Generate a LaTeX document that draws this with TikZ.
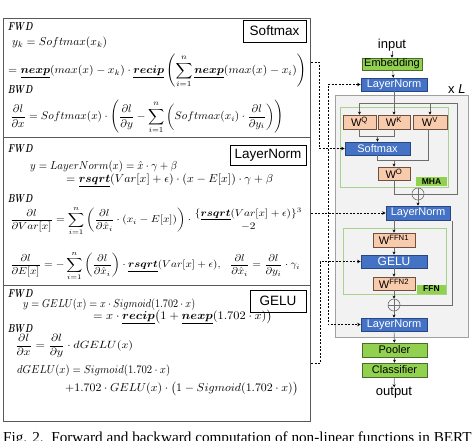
\documentclass[tikz,border=0pt]{standalone}
\usepackage{amsmath,bm,graphicx}
\usepackage{fontspec}
\newfontfamily\arial{Liberation Sans}
\newfontfamily\tnr{Liberation Serif}
\usetikzlibrary{arrows.meta}
\definecolor{boxblue}{RGB}{68,114,196}
\definecolor{boxblueb}{RGB}{40,70,130}
\definecolor{boxgreen}{RGB}{146,208,80}
\definecolor{boxgreenb}{RGB}{70,110,40}
\definecolor{salmon}{RGB}{248,203,173}
\definecolor{salmonb}{RGB}{110,80,60}
\definecolor{frgreen}{RGB}{169,209,142}
\definecolor{grayfill}{RGB}{242,242,242}
\definecolor{grayline}{RGB}{160,160,160}
\definecolor{conn}{RGB}{110,110,110}
\newcommand{\ul}[1]{\underline{\bm{#1}}}
\newcommand{\fitline}[3]{\resizebox{#1pt}{#2\height}{$\displaystyle #3$}}
\begin{document}
\begin{tikzpicture}[x=1pt,y=-1pt,
  eq/.style={anchor=west,inner sep=0pt},
  tagbox/.style={draw=black,line width=0.8pt,inner sep=0pt,font=\arial\fontsize{13.5}{15}\selectfont},
  panel/.style={draw=gray!70!black,line width=0.9pt},
  blk/.style={draw,line width=0.7pt,inner sep=0pt,font=\arial\fontsize{11}{12}\selectfont},
  bluebox/.style={blk,fill=boxblue,draw=boxblueb,text=white},
  greenbox/.style={blk,fill=boxgreen,draw=boxgreenb,text=black},
  wbox/.style={blk,fill=salmon,draw=salmonb,text=black},
  lbl/.style={fill=boxgreen,inner sep=0pt,font=\arial\bfseries\fontsize{8.5}{9}\selectfont},
  plain/.style={inner sep=0pt,font=\arial\fontsize{13}{14}\selectfont},
  ln/.style={draw=conn,line width=0.6pt},
  ar/.style={ln,-{Stealth[length=3pt,width=3pt,color=black]}},
  dsh/.style={draw=black,line width=0.6pt,dash pattern=on 2pt off 1.5pt},
  plus/.style={circle,draw=conn,line width=0.6pt,minimum size=12pt,inner sep=0pt,
    path picture={\draw[conn,line width=0.6pt] (path picture bounding box.north) -- (path picture bounding box.south) (path picture bounding box.west) -- (path picture bounding box.east);}}
]
\useasboundingbox (0,0) rectangle (474,440);
\fill[white] (0,0) rectangle (474,440);

% ---------- left panel frames ----------
\draw[panel] (3,18) rectangle (310,137);
\draw[panel] (3,137) rectangle (310,285);
\draw[panel] (3,285) rectangle (310,421);

\node[tagbox,minimum width=63pt,minimum height=22pt] (tsm) at (274.5,31) {Softmax};
\node[tagbox,minimum width=76pt,minimum height=20pt] (tln) at (268,155) {LayerNorm};
\node[tagbox,minimum width=56pt,minimum height=22pt] (tge) at (278,301) {GELU};

% Softmax section
\node[eq] (f1) at (8,27) {\fitline{25}{1.15}{\bm{FWD}}};
\node[eq] (s1) at (12,43) {\fitline{95}{1.15}{y_k = Softmax(x_k)}};
\node[eq] (s2) at (8,71) {\fitline{298}{1.1}{= \ul{nexp}(max(x) - x_k)\cdot \ul{recip}\left(\sum_{i=1}^{n} \ul{nexp}(max(x) - x_i)\right)}};
\node[eq] (b1) at (8,90) {\fitline{25}{1.15}{\bm{BWD}}};
\node[eq] (s3) at (10,117) {\fitline{273}{1.1}{\frac{\partial l}{\partial x} = Softmax(x)\cdot\left(\frac{\partial l}{\partial y} - \sum_{i=1}^{n}\left(Softmax(x_i)\cdot\frac{\partial l}{\partial y_i}\right)\right)}};

% LayerNorm section
\node[eq] (f2) at (8,149) {\fitline{25}{1.15}{\bm{FWD}}};
\node[eq] (l1) at (30,167) {\fitline{147}{1.15}{y = LayerNorm(x) = \hat{x}\cdot\gamma + \beta}};
\node[eq] (l2) at (66,180) {\fitline{207}{1.15}{= \ul{rsqrt}(Var[x]+\epsilon)\cdot(x - E[x])\cdot\gamma + \beta}};
\node[eq] (b2) at (8,199) {\fitline{25}{1.15}{\bm{BWD}}};
\node[eq] (l3) at (10,221) {\fitline{293}{1.0}{\frac{\partial l}{\partial Var[x]} = \sum_{i=1}^{n}\left(\frac{\partial l}{\partial \hat{x}_i}\cdot(x_i - E[x])\right)\cdot \genfrac{}{}{0pt}{}{\{\ul{rsqrt}(Var[x]+\epsilon)\}^3}{-2}}};
\node[eq] (l4) at (10,266) {\fitline{290}{1.0}{\frac{\partial l}{\partial E[x]} = -\sum_{i=1}^{n}\left(\frac{\partial l}{\partial\hat{x}_i}\right)\cdot\ul{rsqrt}(Var[x]+\epsilon),\ \ \frac{\partial l}{\partial\hat{x}_i} = \frac{\partial l}{\partial y_i}\cdot\gamma_i}};

% GELU section
\node[eq] (f3) at (8,294) {\fitline{25}{1.15}{\bm{FWD}}};
\node[eq] (g1) at (23,305) {\fitline{172}{1.15}{y = GELU(x) = x\cdot Sigmoid(1.702\cdot x)}};
\node[eq] (g2) at (93,317) {\fitline{179}{1.15}{= x\cdot\ul{recip}\big(1+\ul{nexp}(1.702\cdot x)\big)}};
\node[eq] (b3) at (8,329) {\fitline{25}{1.15}{\bm{BWD}}};
\node[eq] (g3) at (15,346) {\fitline{118}{1.05}{\frac{\partial l}{\partial x} = \frac{\partial l}{\partial y}\cdot dGELU(x)}};
\node[eq] (g4) at (17,371) {\fitline{153}{1.15}{dGELU(x) = Sigmoid(1.702\cdot x)}};
\node[eq] (g5) at (65,389) {\fitline{233}{1.15}{+1.702\cdot GELU(x)\cdot\big(1 - Sigmoid(1.702\cdot x)\big)}};

% ---------- right diagram ----------
\draw[grayline,fill=grayfill,line width=0.7pt] (335,95) rectangle (468,337);
\draw[frgreen,line width=1pt] (340,107) rectangle (448,187);
\draw[frgreen,line width=1pt] (343,228) rectangle (446,294);

\node[plain] (inp) at (392,45) {input};
\node[greenbox,minimum width=60pt,minimum height=12pt] (emb) at (392,64) {Embedding};
\node[bluebox,minimum width=66pt,minimum height=13pt] (ln1) at (394,84.5) {LayerNorm};
\node[plain,anchor=west] (xl) at (448,89) {x \textit{L}};

\node[wbox,minimum width=33pt,minimum height=14pt] (wq) at (359.5,122) {W\textsuperscript{Q}};
\node[wbox,minimum width=32pt,minimum height=14pt] (wk) at (394,122) {W\textsuperscript{K}};
\node[wbox,minimum width=34pt,minimum height=14pt] (wv) at (430,122) {W\textsuperscript{V}};
\node[bluebox,minimum width=65pt,minimum height=13pt] (sm) at (377.5,148.5) {Softmax};
\node[wbox,minimum width=32pt,minimum height=13pt] (wo) at (394,173.5) {W\textsuperscript{O}};
\node[lbl,minimum width=31pt,minimum height=9pt] (mha) at (431.5,181.5) {MHA};
\node[plus] (p1) at (418,194) {};
\node[bluebox,minimum width=64pt,minimum height=14pt] (ln2) at (418,213) {LayerNorm};

\node[wbox,minimum width=42pt,minimum height=14pt] (wf1) at (394,240) {W\textsuperscript{FFN1}};
\node[bluebox,minimum width=66pt,minimum height=13pt,font=\arial\fontsize{12}{13}\selectfont] (gelu) at (394,261.5) {GELU};
\node[wbox,minimum width=42pt,minimum height=13pt] (wf2) at (394,283.5) {W\textsuperscript{FFN2}};
\node[lbl,minimum width=29pt,minimum height=9pt] (ffn) at (431.5,289) {FFN};
\node[plus] (p2) at (394,305) {};
\node[bluebox,minimum width=66pt,minimum height=13pt] (ln3) at (394,324.5) {LayerNorm};
\node[greenbox,minimum width=65pt,minimum height=14pt] (pool) at (394.5,350) {Pooler};
\node[greenbox,minimum width=65pt,minimum height=14pt] (cls) at (394.5,370) {Classifier};
\node[plain] (outp) at (394,393) {output};

% solid connectors
\draw[ar] (inp) -- (emb);
\draw[ar] (emb) -- (ln1);
\coordinate (br) at (394,103);
\coordinate (rr) at (457,103);
\draw[ln] (ln1.south) -- (br);
\draw[ln] (wq.north |- br) -- (rr) -- (rr |- p1) -- (p1.east);
\draw[ar] (wq.north |- br) -- (wq.north);
\draw[ar] (br) -- (wk.north);
\draw[ar] (wv.north |- br) -- (wv.north);
\coordinate (qk) at (377.5,136);
\draw[ln] (wq.south) -- (wq.south |- qk) -- (wk.south |- qk) -- (wk.south);
\draw[ar] (qk) -- (sm.north);
\coordinate (sv) at (428,160);
\draw[ln] (sm.south) -- (sm.south |- sv) -- (sv) -- (sv |- wv.south);
\draw[ar] (wo.north |- sv) -- (wo.north);
\draw[ln] (wo.south) -- (wo.south |- p1) -- (p1.west);
\draw[ar] (p1) -- (ln2);
\draw[ar] (wf1.north |- ln2.south) -- (wf1.north);
\coordinate (r2) at (452,221);
\draw[ln] (r2) -- (r2 |- p2) -- (p2.east);
\draw[ar] (wf1) -- (gelu);
\draw[ar] (gelu) -- (wf2);
\draw[ar] (wf2) -- (p2);
\draw[ar] (p2) -- (ln3);
\draw[ar] (ln3) -- (pool);
\draw[ar] (pool) -- (cls);
\draw[ar] (cls) -- (outp);

% dashed connectors
\coordinate (dsm) at (311,62);
\coordinate (dln) at (311,213);
\coordinate (dge) at (311,363);
\draw[dsh,-{Stealth[length=3.5pt,width=3.5pt]}] (dsm) -- (319,62) -- (319,148.5) -- (sm.west);
\draw[dsh,-{Stealth[length=3.5pt,width=3.5pt]}] (dln) -- (ln2.west);
\draw[dsh,{Stealth[length=3.5pt,width=3.5pt]}-{Stealth[length=3.5pt,width=3.5pt]}] (ln1.west) -- (328,84.5) -- (328,324.5) -- (ln3.west);
\draw[dsh,-{Stealth[length=3.5pt,width=3.5pt]}] (dge) -- (320,363) -- (320,261.5) -- (gelu.west);

% caption (cut off by the page edge)
\begin{scope}
\clip (0,0) rectangle (474,440);
\node[anchor=base west,inner sep=0pt,font=\tnr\fontsize{15.2}{17}\selectfont] (cap) at (3,442) {Fig. 2.\enspace Forward and backward computation of non-linear functions in BERT};
\end{scope}
\end{tikzpicture}
\end{document}
